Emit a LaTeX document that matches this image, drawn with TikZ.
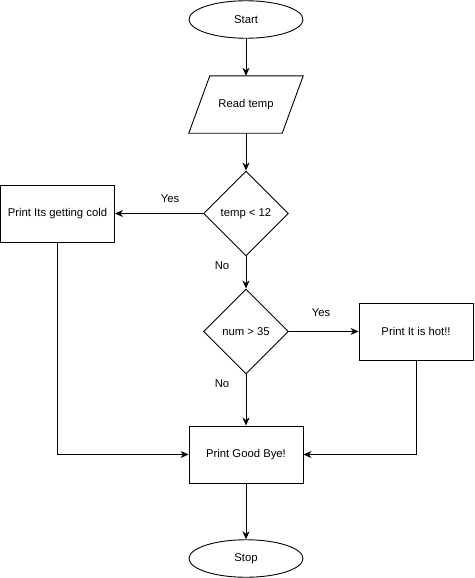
\documentclass[tikz,border=0pt]{standalone}
\usepackage{fontspec}
\setmainfont{Liberation Sans}
\usetikzlibrary{shapes.geometric,arrows.meta}
\begin{document}
\begin{tikzpicture}[x=1pt,y=-1pt,
  every node/.style={font=\fontsize{11.3}{13}\selectfont},
  base/.style={draw=black,line width=0.9pt,inner sep=0pt},
  term/.style={base,ellipse,minimum width=114pt,minimum height=37.5pt},
  io/.style={inner sep=0pt,rectangle,minimum width=114pt,minimum height=57pt},
  dec/.style={base,diamond,minimum width=85pt,minimum height=85pt},
  proc/.style={base,rectangle,minimum width=114pt,minimum height=57pt},
  lbl/.style={inner sep=0pt},
  edge/.style={draw=black,line width=0.9pt},
  arr/.style={edge,-{Stealth[length=8pt,width=7pt,inset=2.5pt]}}
]
\useasboundingbox (0,0) rectangle (474,578);
\node[term] (start) at (246,19.5) {Start};
\node[io] (read) at (246,104.5) {Read temp};
\draw[edge] ([xshift=21pt]read.north west) -- (read.north east) -- ([xshift=-21pt]read.south east) -- (read.south west) -- cycle;
\node[dec] (d1) at (246,213.5) {temp {\textless} 12};
\node[proc] (cold) at (57.5,213.5) {Print Its getting cold};
\node[dec] (d2) at (246,331.5) {num {\textgreater} 35};
\node[proc] (hot) at (416,331.5) {Print It is hot!!};
\node[proc] (bye) at (246,454.5) {Print Good Bye!};
\node[term] (stop) at (246,558.5) {Stop};
\draw[arr] (start) -- (read);
\draw[arr] (read) -- (d1);
\draw[arr] (d1.west) -- (cold.east);
\draw[arr] (d1.south) -- (d2.north);
\draw[arr] (d2.east) -- (hot.west);
\draw[arr] (d2.south) -- (bye.north);
\draw[arr] (cold.south) |- (bye.west);
\draw[arr] (hot.south) |- (bye.east);
\draw[arr] (bye.south) -- (stop.north);
\node[lbl] (y1) at (170,199) {Yes};
\node[lbl] (n1) at (222,266) {No};
\node[lbl] (y2) at (321,313) {Yes};
\node[lbl] (n2) at (222,384) {No};
\end{tikzpicture}
\end{document}
